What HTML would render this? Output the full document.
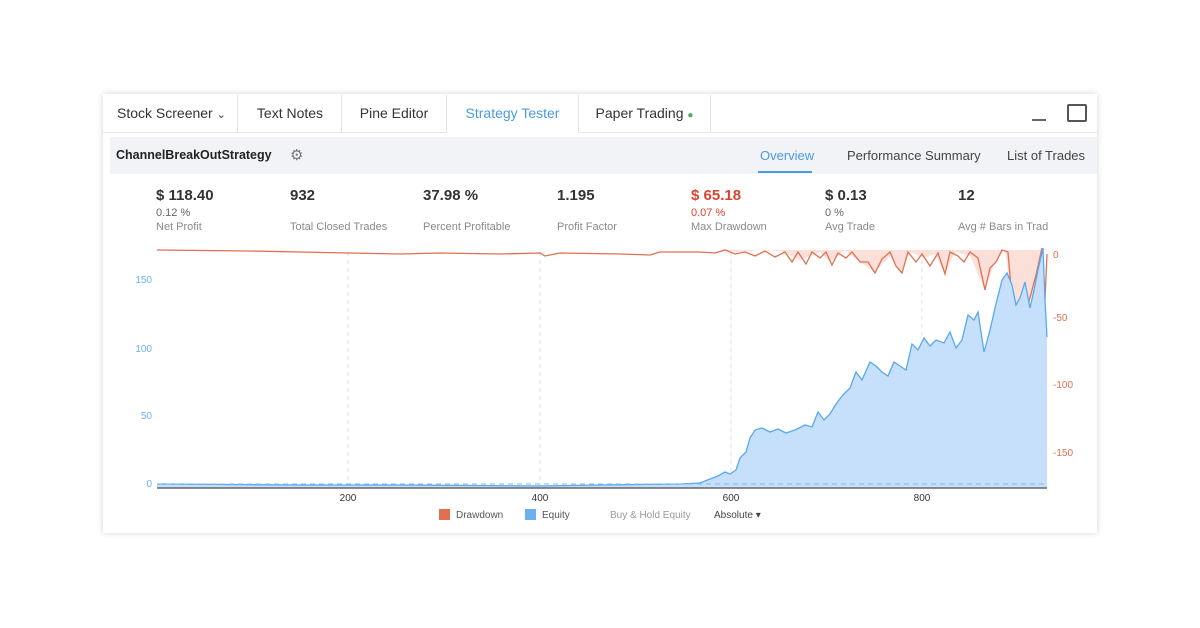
<!DOCTYPE html><html><head><style>
body{margin:0;width:1200px;height:628px;background:#fff;font-family:"Liberation Sans","DejaVu Sans",sans-serif;position:relative;overflow:hidden}
.panel{position:absolute;left:103px;top:94px;width:994px;height:439px;background:#fff;box-shadow:0 0 6px rgba(0,0,0,.18)}
.t{position:absolute;white-space:nowrap}
.tab{position:absolute;top:1px;height:37px;line-height:37px;font-size:14px;color:#333;border-right:1px solid #e3e3e3;text-align:center}
.big{font-size:15px;font-weight:bold;color:#333}
.sm{font-size:11px;color:#666}
.lb{font-size:11px;color:#8a8a8a}
</style></head><body>
<div class="panel">
<div style="position:absolute;left:0;top:38px;width:994px;height:1px;background:#e6e6e6"></div>
<div class="tab" style="left:0;width:135px;text-align:left;padding-left:14px;box-sizing:border-box">Stock Screener <span style="font-size:11px">&#8964;</span></div>
<div class="tab" style="left:136px;width:102px">Text Notes</div>
<div class="tab" style="left:239px;width:104px">Pine Editor</div>
<div class="tab" style="left:344px;width:131px;color:#4a9be0;height:38px;background:#fff">Strategy Tester</div>
<div class="tab" style="left:476px;width:131px">Paper Trading <span style="color:#4caf50;font-size:10px">●</span></div>
<div style="position:absolute;left:929px;top:25px;width:14px;height:2px;background:#666"></div>
<div style="position:absolute;left:964px;top:10px;width:16px;height:14px;border:2px solid #555;border-radius:2px"></div>
<div style="position:absolute;left:7px;top:43px;width:987px;height:37px;background:#f1f3f6"></div>
<div class="t" style="left:13px;top:54px;font-size:12.5px;font-weight:bold;color:#222">ChannelBreakOutStrategy</div>
<div class="t" style="left:187px;top:52px;font-size:15px;color:#777">⚙</div>
<div class="t" style="left:657px;top:54px;font-size:13px;color:#4a9be0">Overview</div>
<div style="position:absolute;left:655px;top:77px;width:54px;height:2px;background:#4a9be0"></div>
<div class="t" style="left:744px;top:54px;font-size:13px;color:#444">Performance Summary</div>
<div class="t" style="left:904px;top:54px;font-size:13px;color:#444">List of Trades</div>
</div>
<div class="t big" style="left:156px;top:187px">$ 118.40</div><div class="t sm" style="left:156px;top:207px">0.12 %</div><div class="t lb" style="left:156px;top:221px">Net Profit</div>
<div class="t big" style="left:290px;top:187px">932</div><div class="t lb" style="left:290px;top:221px">Total Closed Trades</div>
<div class="t big" style="left:423px;top:187px">37.98 %</div><div class="t lb" style="left:423px;top:221px">Percent Profitable</div>
<div class="t big" style="left:557px;top:187px">1.195</div><div class="t lb" style="left:557px;top:221px">Profit Factor</div>
<div class="t big" style="left:691px;top:187px;color:#d9432e">$ 65.18</div><div class="t sm" style="left:691px;top:207px;color:#d9432e">0.07 %</div><div class="t lb" style="left:691px;top:221px">Max Drawdown</div>
<div class="t big" style="left:825px;top:187px">$ 0.13</div><div class="t sm" style="left:825px;top:207px">0 %</div><div class="t lb" style="left:825px;top:221px">Avg Trade</div>
<div class="t big" style="left:958px;top:187px">12</div><div class="t lb" style="left:958px;top:221px">Avg # Bars in Trad</div>
<svg style="position:absolute;left:0;top:0" width="1200" height="628" font-family="Liberation Sans, sans-serif" font-size="10">
<g stroke="#ddd" stroke-dasharray="4,4"><line x1="348" y1="252" x2="348" y2="488"/><line x1="540" y1="252" x2="540" y2="488"/><line x1="731" y1="252" x2="731" y2="488"/><line x1="922" y1="252" x2="922" y2="488"/></g>
<polygon fill="#fbe0da" points="157,250 540,250 700,250 720,250 740,252 760,250 780,251 800,260 820,252 830,262 845,250 860,262 875,272 890,256 900,273 910,252 925,258 935,254 945,274 955,252 970,256 985,290 995,262 1005,250 1012,300 1017,320 1022,290 1028,305 1035,290 1042,248 1047,250 1047,250"/>
<polyline fill="none" stroke="#e07050" stroke-width="1.3" points="157,250 250,251 300,252 348,253 400,254 440,253 500,254 540,253 545,256 560,253 620,254 650,255 660,252 700,252 715,253 725,250 735,254 745,252 755,256 765,251 775,257 785,252 792,262 798,252 806,264 812,252 820,258 826,252 832,265 838,253 846,258 852,252 860,262 868,262 875,273 882,259 890,252 896,266 902,273 908,252 916,262 922,254 930,266 938,253 945,274 950,252 958,256 964,262 970,252 978,258 985,290 990,268 996,262 1002,250 1008,252 1012,300 1017,320 1022,292 1028,305 1032,290 1036,275 1042,248 1045,300 1047,254"/>
<polygon fill="#c6e0fb" points="157,484 300,485 400,485 540,486 600,485 680,484 700,483 710,479 718,476 725,472 730,474 736,470 740,458 746,452 750,438 755,430 762,428 770,432 778,429 786,433 795,430 805,425 812,427 818,412 824,420 830,414 836,404 842,396 846,392 850,388 856,372 862,380 870,362 876,366 882,372 888,376 894,362 900,366 906,370 912,344 918,350 924,338 930,346 936,340 944,343 950,332 956,348 962,340 968,315 974,320 978,312 984,352 990,330 996,304 1002,280 1007,273 1012,285 1016,305 1020,298 1025,282 1030,308 1034,290 1038,270 1043,248 1045,300 1047,337 1047,488 157,488"/>
<polyline fill="none" stroke="#5aa8ee" stroke-width="1.3" points="157,484 300,485 400,485 540,486 600,485 680,484 700,483 710,479 718,476 725,472 730,474 736,470 740,458 746,452 750,438 755,430 762,428 770,432 778,429 786,433 795,430 805,425 812,427 818,412 824,420 830,414 836,404 842,396 846,392 850,388 856,372 862,380 870,362 876,366 882,372 888,376 894,362 900,366 906,370 912,344 918,350 924,338 930,346 936,340 944,343 950,332 956,348 962,340 968,315 974,320 978,312 984,352 990,330 996,304 1002,280 1007,273 1012,285 1016,305 1020,298 1025,282 1030,308 1034,290 1038,270 1043,248 1045,300 1047,337"/>
<line x1="157" y1="484" x2="1047" y2="484" stroke="#7fb8ee" stroke-dasharray="5,4"/>
<line x1="157" y1="488" x2="1047" y2="488" stroke="#666" stroke-width="1.5"/>
<g fill="#333" text-anchor="middle"><text x="348" y="501">200</text><text x="540" y="501">400</text><text x="731" y="501">600</text><text x="922" y="501">800</text></g>
<g fill="#6db0f0" text-anchor="end"><text x="152" y="283">150</text><text x="152" y="352">100</text><text x="152" y="419">50</text><text x="152" y="487">0</text></g>
<g fill="#e07050"><text x="1053" y="258">0</text><text x="1053" y="321">-50</text><text x="1053" y="388">-100</text><text x="1053" y="456">-150</text></g>
<rect x="439" y="509" width="11" height="11" fill="#e07050"/><text x="456" y="518" fill="#555">Drawdown</text>
<rect x="525" y="509" width="11" height="11" fill="#6db0f0"/><text x="542" y="518" fill="#555">Equity</text>
<text x="610" y="518" fill="#999">Buy &amp; Hold Equity</text>
<text x="714" y="518" fill="#444">Absolute ▾</text>
</svg>
</body></html>
